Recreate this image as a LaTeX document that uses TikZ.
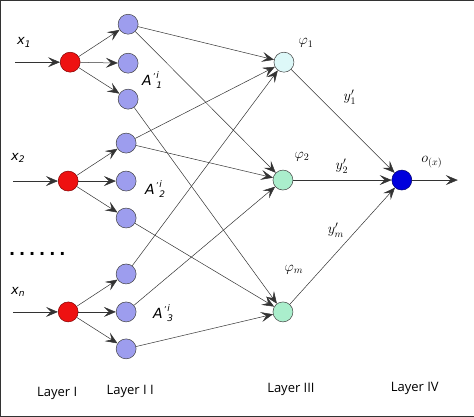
\documentclass[tikz,border=0pt]{standalone}
\usepackage{fontspec}
\setmainfont{DejaVu Sans}
\newfontfamily\layerfont{Open Sans}
\usetikzlibrary{arrows.meta}
\definecolor{inred}{HTML}{EE1111}
\definecolor{hidblue}{HTML}{9D9DEE}
\definecolor{rbfcyan}{HTML}{DDF8F8}
\definecolor{rbfgreen}{HTML}{AAEECC}
\definecolor{outblue}{HTML}{0000DD}
\newcommand{\Alab}[1]{\textit{A}\kern1pt\raisebox{6pt}{\fontsize{8}{8}\selectfont\textit{'}}\kern1pt%
  \makebox[0pt][l]{\raisebox{7pt}{\fontsize{9}{9}\selectfont\textit{i}}}%
  \raisebox{-3pt}{\fontsize{9}{9}\selectfont\textit{#1}}}
\begin{document}
\begin{tikzpicture}
  [x=1pt,y=-1pt,
   every node/.style={circle,draw=black!75,minimum size=20pt,inner sep=0pt},
   lab/.style={draw=none,rectangle,minimum size=0pt,inner sep=1pt},
   every path/.style={draw=black!80,line width=0.5pt},
   >={Stealth[length=12pt,width=10pt,inset=5pt]}]
  \useasboundingbox (0,0) rectangle (474,416);

  % input layer
  \node[fill=inred,draw=red!50!black] (in1) at (70,62)  {};
  \node[fill=inred,draw=red!50!black] (in2) at (68,181) {};
  \node[fill=inred,draw=red!50!black] (in3) at (68,312) {};

  % layer II
  \node[fill=hidblue] (a1) at (128,24)  {};
  \node[fill=hidblue] (b1) at (128,63)  {};
  \node[fill=hidblue] (c1) at (128,99)  {};
  \node[fill=hidblue] (a2) at (126,143) {};
  \node[fill=hidblue] (b2) at (126,181) {};
  \node[fill=hidblue] (c2) at (126,218) {};
  \node[fill=hidblue] (a3) at (126,274) {};
  \node[fill=hidblue] (b3) at (126,312) {};
  \node[fill=hidblue] (c3) at (126,349) {};

  % layer III
  \node[fill=rbfcyan]  (phi1) at (284,62)  {};
  \node[fill=rbfgreen] (phi2) at (283,180) {};
  \node[fill=rbfgreen] (phim) at (283,312) {};

  % layer IV
  \node[fill=outblue,draw=blue!40!black] (out) at (402,180) {};

  \coordinate (s1) at (15,62);
  \coordinate (s2) at (13,181);
  \coordinate (s3) at (13,312);
  \coordinate (e)  at (458,180);

  \foreach \from/\to in {s1/in1,s2/in2,s3/in3,
      in1/a1,in1/b1,in1/c1,in2/a2,in2/b2,in2/c2,in3/a3,in3/b3,in3/c3,
      a1/phi1,a1/phi2,c1/phim,a2/phi1,a2/phi2,c2/phim,a3/phi1,b3/phi2,c3/phim,
      phi1/out,phi2/out,phim/out,out/e}
    \draw[->] (\from) -- (\to);

  % labels
  \node[lab,font=\fontsize{13}{15}\selectfont] at (24,42)  {\textit{x}\textsubscript{\textit{1}}};
  \node[lab,font=\fontsize{13}{15}\selectfont] at (18,158) {\textit{x}\textsubscript{\textit{2}}};
  \node[lab,font=\fontsize{13}{15}\selectfont] at (18,292) {\textit{x}\textsubscript{\textit{n}}};
  \node[lab,font=\fontsize{16}{18}\bfseries\addfontfeature{LetterSpace=25}] at (37,254) {......};
  \node[lab,font=\fontsize{14}{16}\selectfont] at (152,80)  {\Alab{1}};
  \node[lab,font=\fontsize{14}{16}\selectfont] at (155,189) {\Alab{2}};
  \node[lab,font=\fontsize{14}{16}\selectfont] at (163,313) {\Alab{3}};

  \node[lab,font=\fontsize{14}{16}\selectfont] at (306,43)  {$\varphi_1$};
  \node[lab,font=\fontsize{14}{16}\selectfont] at (302,157) {$\varphi_2$};
  \node[lab,font=\fontsize{14}{16}\selectfont] at (294,270) {$\varphi_m$};
  \node[lab,font=\fontsize{14}{16}\selectfont] at (350,97)  {$y'_1$};
  \node[lab,font=\fontsize{14}{16}\selectfont] at (342,166) {$y'_2$};
  \node[lab,font=\fontsize{14}{16}\selectfont] at (336,230) {$y'_m$};
  \node[lab,font=\fontsize{14}{16}\selectfont] at (432,162) {$o_{(x)}$};

  \node[lab,font=\fontsize{13}{15}\layerfont] at (57,394)  {Layer I};
  \node[lab,font=\fontsize{13}{15}\layerfont] at (130,392) {Layer I I};
  \node[lab,font=\fontsize{13}{15}\layerfont] at (291,390) {Layer III};
  \node[lab,font=\fontsize{13}{15}\layerfont] at (415,389) {Layer IV};
\end{tikzpicture}
\end{document}
